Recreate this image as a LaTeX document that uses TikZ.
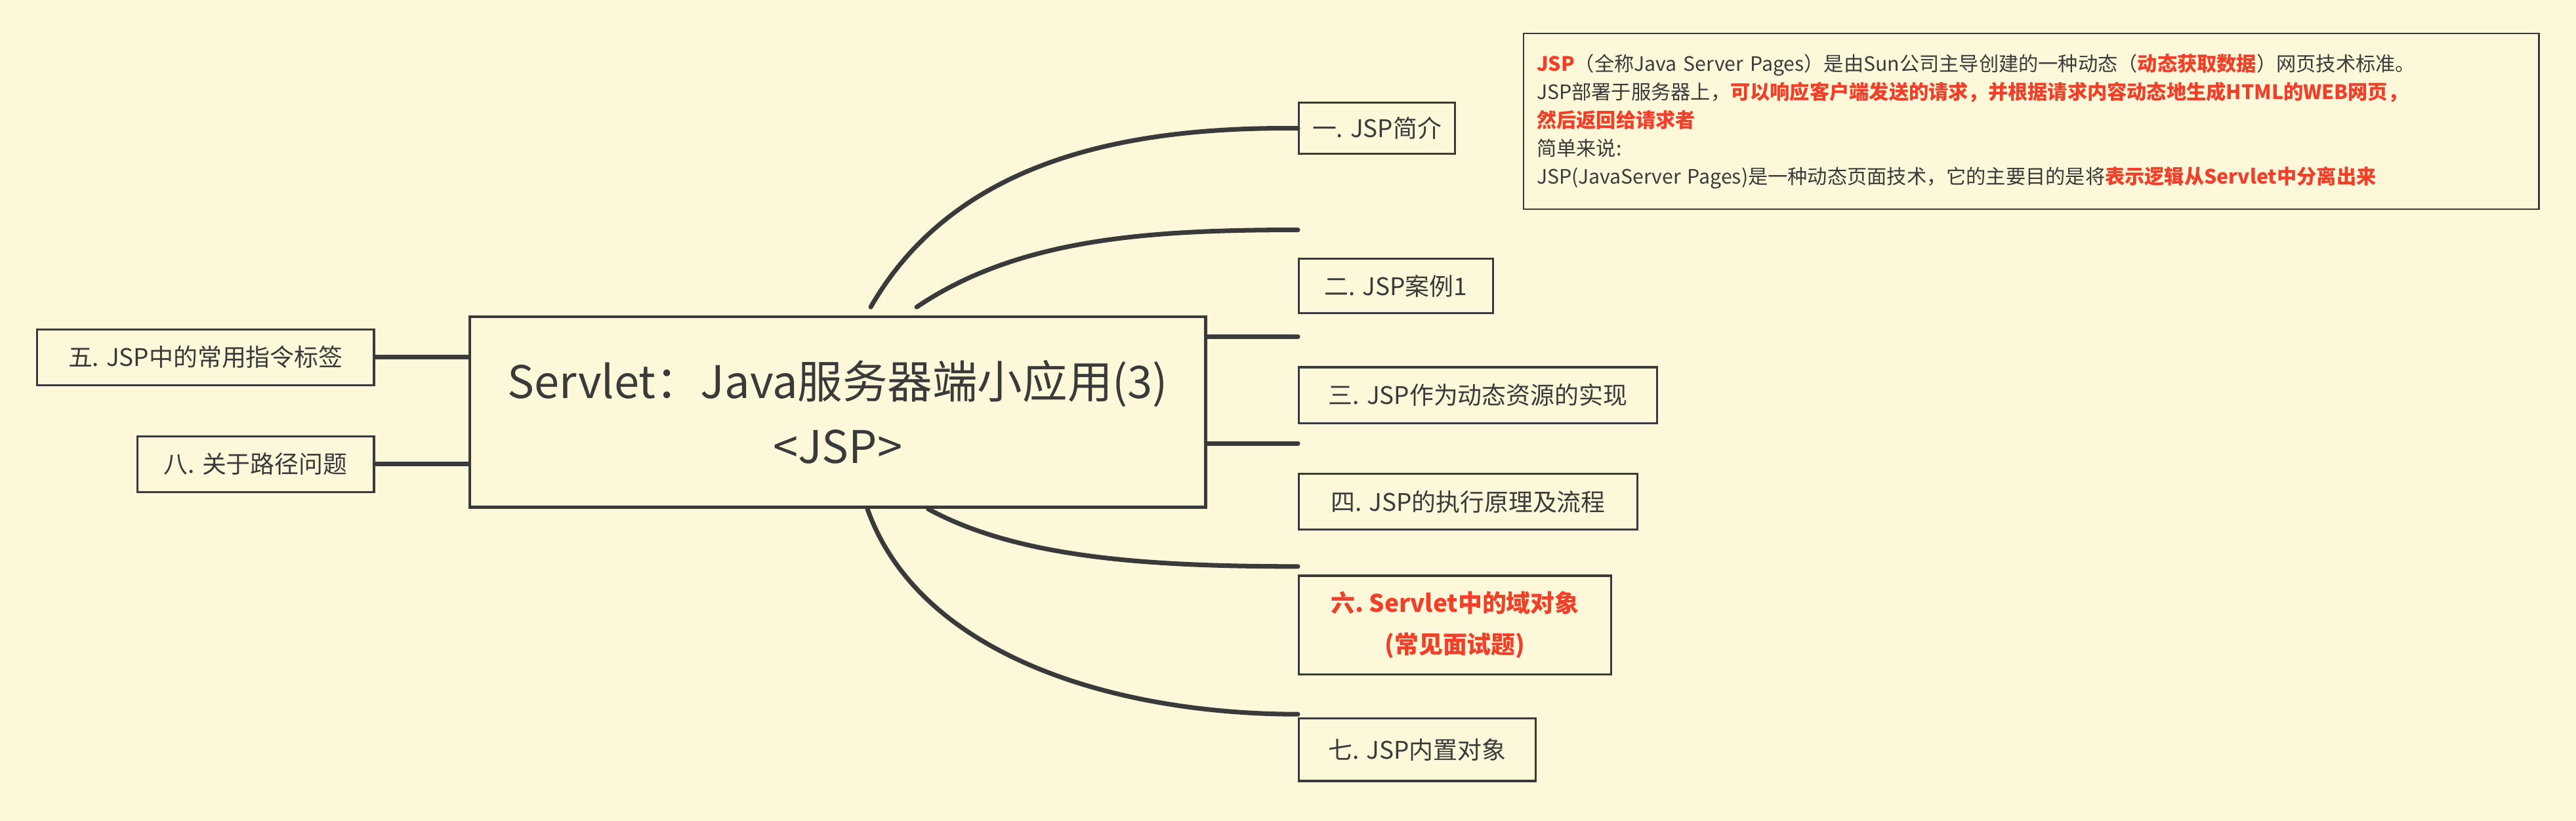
\documentclass[tikz,border=0pt]{standalone}
\usepackage{fontspec}
\setmainfont{Noto Sans CJK SC}
\definecolor{paper}{HTML}{FEF8DA}
\definecolor{ink}{HTML}{3A3A3A}
\definecolor{hot}{HTML}{F0402A}
\tikzset{
  topic/.style={draw=ink,line width=0.9pt,anchor=north west,inner sep=0pt,align=center,text=ink,font=\fontsize{10.5}{13}\selectfont},
  branch/.style={draw=ink,line width=2pt,line cap=round},
}
\newcommand{\hl}[1]{\textcolor{hot}{\bfseries #1}}
\begin{document}
\begin{tikzpicture}[x=0.02504cm,y=-0.02504cm]
  \fill[paper] (0,0) rectangle (1568,500);
  \useasboundingbox (0,0) rectangle (1568,500);
  % central topic
  \node[topic,line width=1.3pt,minimum width=448*0.02504cm,minimum height=116*0.02504cm,font=\fontsize{19.5}{28}\selectfont] (root) at (285,192)
    {Servlet：Java服务器端小应用(3)\\<JSP>};
  % right side
  \node[topic,minimum width=95*0.02504cm,minimum height=31*0.02504cm] (jsp1) at (790,62) {一. JSP简介};
  \node[topic,minimum width=118*0.02504cm,minimum height=33*0.02504cm] (jsp2) at (790,157) {二. JSP案例1};
  \node[topic,minimum width=218*0.02504cm,minimum height=34*0.02504cm] (jsp3) at (790,223) {三. JSP作为动态资源的实现};
  \node[topic,minimum width=206*0.02504cm,minimum height=34*0.02504cm] (jsp4) at (790,288) {四. JSP的执行原理及流程};
  \node[topic,minimum width=190*0.02504cm,minimum height=60*0.02504cm,text=hot,font=\fontsize{10.5}{18}\bfseries] (jsp6) at (790,350) {六.\ Servlet中的域对象\\(常见面试题)};
  \node[topic,minimum width=144*0.02504cm,minimum height=38*0.02504cm] (jsp7) at (790,437) {七. JSP内置对象};
  % left side
  \node[topic,minimum width=205*0.02504cm,minimum height=34*0.02504cm] (jsp5) at (22,200) {五. JSP中的常用指令标签};
  \node[topic,minimum width=144*0.02504cm,minimum height=34*0.02504cm] (jsp8) at (83,265) {八. 关于路径问题};
  % note
  \node[topic,line width=0.6pt,text width=602*0.02504cm,minimum height=107*0.02504cm,align=left,inner xsep=8*0.02504cm,inner ysep=4pt,font=\fontsize{8.6}{12.2}\selectfont] (note) at (927,20)
    {\hl{JSP}（全称Java Server Pages）是由Sun公司主导创建的一种动态（\hl{动态获取数据}）网页技术标准。\\
     JSP部署于服务器上，\hl{可以响应客户端发送的请求，并根据请求内容动态地生成HTML的WEB网页，}\\
     \hl{然后返回给请求者}\\
     简单来说:\\
     JSP(JavaServer Pages)是一种动态页面技术，它的主要目的是将\hl{表示逻辑从Servlet中分离出来}};
  % connector ends
  \coordinate (e2) at (790,140);
  \coordinate (e3) at (790,205);
  \coordinate (e4) at (790,270);
  \coordinate (e6) at (790,345);
  \coordinate (e7) at (790,435);
  \draw[branch] (530,187) .. controls (580,100) and (680,77) .. (jsp1.west);
  \draw[branch] (558,187) .. controls (620,145) and (700,140) .. (e2);
  \draw[branch] (root.east |- e3) -- (e3);
  \draw[branch] (root.east |- e4) -- (e4);
  \draw[branch] (565,310) .. controls (620,340) and (700,345) .. (e6);
  \draw[branch] (528,310) .. controls (560,400) and (680,435) .. (e7);
  \draw[branch] (jsp5.east) -- (root.west |- jsp5.east);
  \draw[branch] (jsp8.east) -- (root.west |- jsp8.east);
\end{tikzpicture}
\end{document}
